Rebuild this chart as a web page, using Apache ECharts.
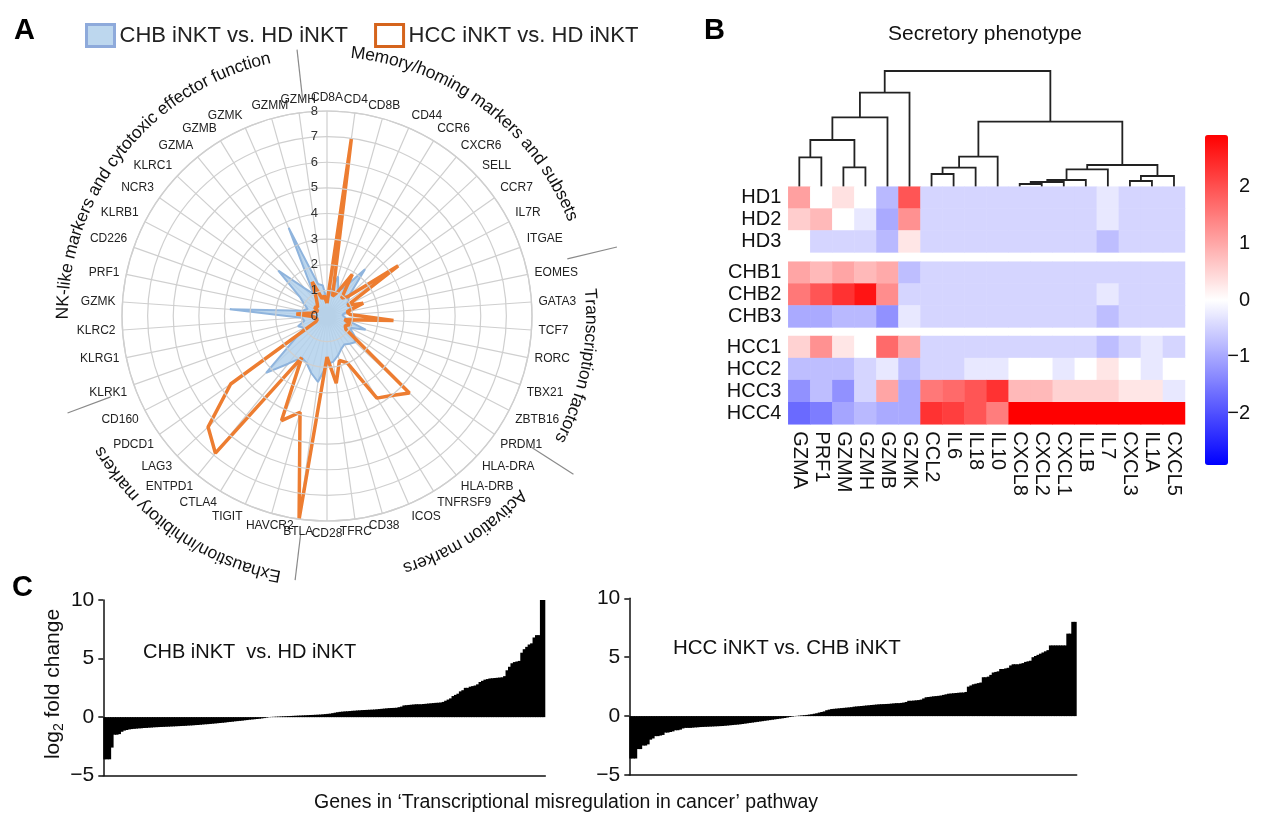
<!DOCTYPE html>
<html><head><meta charset="utf-8">
<script src="https://cdn.jsdelivr.net/npm/echarts@6/dist/echarts.min.js"></script>
<style>html,body{margin:0;padding:0;background:#fff}#c{width:1277px;height:817px}</style>
</head><body><div id="c"></div>
<script>
const FONT = '"Liberation Sans", Arial, Helvetica, sans-serif';

// ---------- Panel A data ----------
const radarGenes = ['CD8A','CD4','CD8B','CD44','CCR6','CXCR6','SELL','CCR7','IL7R','ITGAE',
  'EOMES','GATA3','TCF7','RORC','TBX21','ZBTB16','PRDM1','HLA-DRA','HLA-DRB','TNFRSF9',
  'ICOS','CD38','TFRC','CD28','BTLA','HAVCR2','TIGIT','CTLA4','ENTPD1','LAG3',
  'PDCD1','CD160','KLRK1','KLRG1','KLRC2','GZMK','PRF1','CD226','KLRB1','NCR3',
  'KLRC1','GZMA','GZMB','GZMK','GZMM','GZMH'];
const chbVsHd = [0.6,0.9,1.6,1.1,1.3,2.35,1.2,1.0,0.9,1.0,
  0.8,0.6,0.7,0.8,1.6,1.0,1.3,1.5,1.4,1.3,
  1.4,1.6,1.8,1.9,2.6,2.3,2.0,1.9,2.4,3.25,
  1.5,1.0,1.2,0.9,1.0,3.8,1.0,0.8,1.0,1.3,
  2.6,1.4,1.0,3.75,1.3,1.2];
const hccVsHd = [0.5,7.0,0.8,1.0,1.9,0.9,1.1,3.4,0.9,1.5,
  0.8,0.9,2.6,0.7,1.0,0.8,0.9,4.4,4.0,3.75,
  2.0,1.8,2.65,1.6,8.0,3.9,4.45,1.9,6.9,6.35,
  4.6,0.5,0.4,0.4,0.5,1.2,0.6,0.5,0.4,0.6,
  0.5,0.6,0.8,1.45,0.7,0.8];
const legendNames = ['CHB iNKT vs. HD iNKT', 'HCC iNKT vs. HD iNKT'];
const groupLabels = ['Memory/homing markers and subsets','Transcription factors','Activation markers',
  'Exhaustion/inhibitory markers','NK-like markers and cytotoxic effector function'];
const groupLabelAngle = [4.72, 12.94, 18.85, 27.48, 39.41];   // in gene-index units
const groupLabelRadius = 10.3;                                 // in axis units
const separatorAngle = [45.18, 9.79, 15.68, 23.88, 31.88];
const separatorInner = [8.47, 9.64, 9.48, 8.59, 9.01];
const separatorOuter = [10.46, 11.63, 11.43, 10.38, 10.81];

// ---------- Panel B data ----------
const hmCols = ['GZMA','PRF1','GZMM','GZMH','GZMB','GZMK','CCL2','IL6','IL18','IL10',
  'CXCL8','CXCL2','CXCL1','IL1B','IL7','CXCL3','IL1A','CXCL5'];
const hdRows = ['HD1','HD2','HD3'];
const chbRows = ['CHB1','CHB2','CHB3'];
const hccRows = ['HCC1','HCC2','HCC3','HCC4'];
const hdValues = [
  [1.08,0,0.34,0,-0.8,1.93,-0.48,-0.48,-0.48,-0.48,-0.48,-0.48,-0.48,-0.48,-0.26,-0.48,-0.48,-0.48],
  [0.57,0.8,0,-0.26,-0.97,1.25,-0.48,-0.48,-0.48,-0.48,-0.48,-0.48,-0.48,-0.48,-0.26,-0.48,-0.48,-0.48],
  [0,-0.48,-0.48,-0.48,-0.8,0.28,-0.48,-0.48,-0.48,-0.48,-0.48,-0.48,-0.48,-0.48,-0.74,-0.48,-0.48,-0.48]];
const chbValues = [
  [1.02,0.8,1.02,0.8,0.97,-0.74,-0.48,-0.48,-0.48,-0.48,-0.48,-0.48,-0.48,-0.48,-0.48,-0.48,-0.48,-0.48],
  [1.53,1.93,2.33,2.67,1.3,-0.48,-0.48,-0.48,-0.48,-0.48,-0.48,-0.48,-0.48,-0.48,-0.26,-0.48,-0.48,-0.48],
  [-0.97,-0.97,-0.8,-0.8,-1.25,-0.26,-0.48,-0.48,-0.48,-0.48,-0.48,-0.48,-0.48,-0.48,-0.74,-0.48,-0.48,-0.48]];
const hccValues = [
  [0.51,1.25,0.28,0,1.7,0.97,-0.48,-0.48,-0.48,-0.48,-0.48,-0.48,-0.48,-0.48,-0.74,-0.48,-0.26,-0.48],
  [-0.74,-0.74,-0.74,-0.48,-0.26,-0.74,-0.48,-0.48,-0.26,-0.26,0,0,-0.26,0,0.28,0,-0.26,0],
  [-1.25,-0.74,-1.25,-0.48,1.02,-0.97,1.53,1.7,1.93,2.33,0.8,0.8,0.51,0.51,0.51,0.28,0.28,-0.26],
  [-1.7,-1.48,-1.02,-0.8,-0.97,-0.97,2.33,2.2,1.93,1.48,2.9,2.9,2.9,2.9,2.9,2.9,2.9,2.9]];
// dendrogram merges: [child a, child b, height]; leaves 0..17, new nodes numbered from 18
const dendroMerges = [[0,1,2.94],[2,3,1.94],[18,19,4.67],[20,4,6.94],[21,5,9.4],
  [6,7,1.27],[23,8,1.9],[24,9,3.0],[10,11,0.27],[26,12,0.47],[27,13,0.67],[28,14,1.74],
  [15,16,0.57],[30,17,1.07],[29,31,2.17],[25,32,6.5],[22,33,11.57]];
const colorbarTicks = [-2,-1,0,1,2];

// ---------- Panel C data ----------
const chbVsHdFold = [
 -3.6,-3.6,-3.6,-2.6,-1.5,-1.5,-1.45,-1.25,-1.15,-1.1,
 -1.05,-1.02,-1.0,-0.98,-0.96,-0.95,-0.93,-0.92,-0.9,-0.89,
 -0.87,-0.86,-0.85,-0.84,-0.83,-0.82,-0.81,-0.8,-0.79,-0.78,
 -0.77,-0.76,-0.75,-0.74,-0.72,-0.71,-0.7,-0.68,-0.67,-0.65,
 -0.63,-0.61,-0.6,-0.58,-0.56,-0.54,-0.52,-0.5,-0.48,-0.46,
 -0.43,-0.41,-0.39,-0.36,-0.34,-0.32,-0.3,-0.27,-0.25,-0.22,
 -0.2,-0.18,-0.16,-0.14,-0.11,-0.08,-0.05,-0.02,0.02,0.03,
 0.04,0.05,0.06,0.07,0.08,0.09,0.1,0.11,0.12,0.13,
 0.14,0.15,0.16,0.17,0.18,0.19,0.2,0.21,0.22,0.24,
 0.26,0.28,0.3,0.34,0.38,0.42,0.45,0.47,0.49,0.5,
 0.52,0.54,0.55,0.57,0.58,0.6,0.61,0.62,0.63,0.64,
 0.65,0.67,0.69,0.71,0.73,0.75,0.77,0.78,0.79,0.8,
 0.85,0.9,1.0,1.02,1.04,1.06,1.08,1.1,1.1,1.1,
 1.12,1.14,1.16,1.18,1.2,1.22,1.23,1.25,1.3,1.4,
 1.5,1.6,1.8,1.9,2.0,2.2,2.3,2.5,2.5,2.6,
 2.65,2.7,2.8,3.0,3.1,3.2,3.25,3.3,3.32,3.34,
 3.36,3.38,3.4,3.5,4.0,4.3,4.6,4.7,4.75,4.8,
 5.5,5.8,6.0,6.2,6.3,6.8,7.0,7.0,10.5,10.5];
const hccVsChbFold = [
 -3.6,-3.6,-3.6,-2.8,-2.8,-2.5,-2.5,-2.4,-2.0,-1.9,
 -1.7,-1.7,-1.65,-1.6,-1.4,-1.4,-1.35,-1.3,-1.2,-1.2,
 -1.15,-1.05,-1.0,-1.0,-1.0,-0.98,-0.96,-0.95,-0.93,-0.92,
 -0.91,-0.9,-0.89,-0.88,-0.87,-0.86,-0.85,-0.84,-0.82,-0.8,
 -0.78,-0.76,-0.74,-0.72,-0.7,-0.67,-0.64,-0.61,-0.58,-0.55,
 -0.52,-0.49,-0.46,-0.43,-0.4,-0.37,-0.34,-0.31,-0.28,-0.25,
 -0.22,-0.19,-0.16,-0.12,-0.08,-0.05,-0.02,0.02,0.04,0.06,
 0.08,0.1,0.13,0.16,0.2,0.24,0.3,0.35,0.4,0.5,
 0.55,0.6,0.62,0.64,0.66,0.68,0.7,0.72,0.74,0.76,
 0.8,0.82,0.84,0.86,0.88,0.9,0.92,0.94,0.96,0.98,
 1.0,1.01,1.02,1.03,1.04,1.06,1.08,1.1,1.1,1.12,
 1.15,1.2,1.3,1.3,1.32,1.34,1.36,1.4,1.5,1.6,
 1.62,1.65,1.68,1.7,1.72,1.75,1.8,1.85,1.9,1.92,
 1.94,1.96,1.98,2.0,2.0,2.05,2.5,2.6,2.7,2.75,
 2.8,2.85,3.3,3.3,3.35,3.5,3.7,3.75,3.8,4.0,
 4.0,4.05,4.1,4.3,4.4,4.4,4.4,4.45,4.5,4.6,
 4.65,4.7,5.0,5.1,5.2,5.3,5.4,5.5,5.6,6.0,
 6.0,6.0,6.0,6.0,6.0,6.0,7.0,7.0,8.0,8.0];

// ---------- build ----------
const chart = echarts.init(document.getElementById('c'), null, {renderer: 'canvas'});
const N = radarGenes.length;
const closeLoop = arr => arr.map((v, i) => [v, i]).concat([[arr[0], N]]);
const minus = v => (v < 0 ? '\u2212' + (-v) : '' + v);

// dendrogram geometry from merges
const nodeX = hmCols.map((_, i) => i), nodeH = hmCols.map(() => 0);
const dendroData = dendroMerges.map(m => {
  const [a, b, h] = m;
  const row = [nodeX[a], nodeH[a], nodeX[b], nodeH[b], h];
  nodeX.push((nodeX[a] + nodeX[b]) / 2); nodeH.push(h);
  return row;
});
const rootH = dendroMerges[dendroMerges.length - 1][2];

const hmSeries = (vals, gi) => ({
  type: 'heatmap', xAxisIndex: gi, yAxisIndex: gi,
  data: vals.flatMap((row, r) => row.map((v, c) => [c, r, v])),
  itemStyle: {borderWidth: 0}, emphasis: {disabled: true}
});
const hmGrid = (top, h) => ({left: 788.3, top, width: 396.7, height: h});
const hiddenCat = (gi, data) => ({type: 'category', gridIndex: gi, data, show: false});
const rowAxis = (gi, data) => ({type: 'category', gridIndex: gi, data, inverse: true,
  axisLine: {show: false}, axisTick: {show: false},
  axisLabel: {interval: 0, fontSize: 20, color: '#111', fontFamily: FONT, margin: 7, hideOverlap: false}});
const foldY = gi => ({type: 'value', gridIndex: gi, min: -5, max: 10, interval: 5,
  axisLine: {show: true, lineStyle: {color: '#111', width: 1.5}},
  axisTick: {show: true, length: 5, lineStyle: {color: '#111', width: 1.5}},
  splitLine: {show: false},
  axisLabel: {fontSize: 21, color: '#111', fontFamily: FONT, margin: 9, formatter: minus}});
const foldX = (gi, n) => ({type: 'category', gridIndex: gi, data: n.map((_, i) => i),
  axisLine: {onZero: false, lineStyle: {color: '#111', width: 1.5}},
  axisTick: {show: false}, axisLabel: {show: false}});
const foldBar = (gi, data) => ({type: 'bar', xAxisIndex: gi, yAxisIndex: gi, data,
  barWidth: 3.4, barCategoryGap: '0%',
  itemStyle: {color: '#000'}, emphasis: {disabled: true}});

const option = {
  animation: false,
  backgroundColor: '#fff',
  textStyle: {fontFamily: FONT},
  legend: {
    left: 80, top: 18, itemWidth: 28, itemHeight: 22, itemGap: 26,
    textStyle: {fontSize: 22, color: '#222', fontFamily: FONT},
    data: [
      {name: legendNames[0], icon: 'rect', itemStyle: {color: '#bdd7ee', borderColor: '#8eaadb', borderWidth: 3}},
      {name: legendNames[1], icon: 'rect', itemStyle: {color: '#ffffff', borderColor: '#d5641c', borderWidth: 3}}
    ]
  },
  polar: {center: [327, 316], radius: 205},
  angleAxis: {
    type: 'value', min: 0, max: N, interval: 1, startAngle: 90, clockwise: true,
    axisLine: {show: true, lineStyle: {color: '#cfcfcf', width: 1.2}},
    axisTick: {show: false},
    splitLine: {show: true, lineStyle: {color: '#cfcfcf', width: 1.2}},
    axisLabel: {fontSize: 12, color: '#222', fontFamily: FONT, margin: 7,
      formatter: v => (v < N ? radarGenes[v] : '')}
  },
  radiusAxis: {
    type: 'value', min: 0, max: 8, interval: 1, z: 20,
    axisLine: {show: false}, axisTick: {show: false},
    splitLine: {show: true, lineStyle: {color: '#cfcfcf', width: 1.2}},
    axisLabel: {fontSize: 13, color: '#333', fontFamily: FONT, margin: 9, hideOverlap: false, showMinLabel: true}
  },
  grid: [
    {left: 788.3, top: 71, width: 396.7, height: 115.7},
    hmGrid(186.7, 65.7), hmGrid(261.7, 65.7), hmGrid(336, 88.3),
    {left: 1205, top: 129.3, width: 23, height: 341.4},
    {left: 103.3, top: 600, width: 442, height: 175.7},
    {left: 629.3, top: 598.3, width: 447.4, height: 176.7}
  ],
  xAxis: [
    {type: 'value', gridIndex: 0, min: -0.5, max: hmCols.length - 0.5, show: false},
    hiddenCat(1, hmCols), hiddenCat(2, hmCols),
    {type: 'category', gridIndex: 3, data: hmCols, axisLine: {show: false}, axisTick: {show: false},
      axisLabel: {rotate: -90, interval: 0, fontSize: 20, color: '#111', fontFamily: FONT, margin: 7}},
    {type: 'value', gridIndex: 4, show: false},
    foldX(5, chbVsHdFold), foldX(6, hccVsChbFold)
  ],
  yAxis: [
    {type: 'value', gridIndex: 0, min: 0, max: rootH, show: false},
    rowAxis(1, hdRows), rowAxis(2, chbRows), rowAxis(3, hccRows),
    {type: 'value', gridIndex: 4, min: -3, max: 3, interval: 1, position: 'right',
      axisLine: {show: false}, axisTick: {show: false}, splitLine: {show: false},
      axisLabel: {fontSize: 20, color: '#111', fontFamily: FONT, margin: 22, align: 'right',
        formatter: v => (colorbarTicks.indexOf(v) < 0 ? '' : minus(v))}},
    foldY(5), foldY(6)
  ],
  visualMap: {
    type: 'continuous', min: -2.9, max: 2.9, calculable: false, show: true,
    left: 1205, top: 135, itemWidth: 23, itemHeight: 330, padding: 0,
    text: null, seriesIndex: [3, 4, 5],
    inRange: {color: ['#0000ff', '#ffffff', '#ff0000']}
  },
  series: [
    {name: legendNames[0], type: 'line', coordinateSystem: 'polar', data: closeLoop(chbVsHd),
      symbol: 'none', smooth: false, z: 3,
      lineStyle: {color: '#8fb4dd', width: 2},
      areaStyle: {color: '#b3d1ec', opacity: 0.85}, itemStyle: {color: '#bdd7ee'}},
    {name: legendNames[1], type: 'line', coordinateSystem: 'polar', data: closeLoop(hccVsHd),
      symbol: 'none', smooth: false, z: 4,
      lineStyle: {color: '#ed7d31', width: 3.5}, itemStyle: {color: '#ed7d31'}},
    {type: 'custom', xAxisIndex: 0, yAxisIndex: 0, data: dendroData,
      encode: {x: [0, 2], y: [1, 3, 4]},
      renderItem: (params, api) => {
        const p1 = api.coord([api.value(0), api.value(1)]);
        const p2 = api.coord([api.value(0), api.value(4)]);
        const p3 = api.coord([api.value(2), api.value(4)]);
        const p4 = api.coord([api.value(2), api.value(3)]);
        return {type: 'polyline', shape: {points: [p1, p2, p3, p4]},
          style: {stroke: '#222', lineWidth: 1.8, fill: null}};
      }},
    hmSeries(hdValues, 1), hmSeries(chbValues, 2), hmSeries(hccValues, 3),
    foldBar(5, chbVsHdFold), foldBar(6, hccVsChbFold)
  ],
  graphic: []
};
chart.setOption(option);

// ---------- annotations ----------
const txt = (x, y, text, size, extra) => Object.assign({type: 'text', x, y, silent: true,
  style: Object.assign({text, fontSize: size, fontFamily: FONT, fill: '#111', align: 'left', verticalAlign: 'middle'}, extra || {})});
const g = [
  txt(14, 31, 'A', 29, {fontWeight: 'bold', fill: '#000'}),
  txt(704, 31, 'B', 29, {fontWeight: 'bold', fill: '#000'}),
  txt(12, 588, 'C', 29, {fontWeight: 'bold', fill: '#000'}),
  txt(985, 34, 'Secretory phenotype', 21, {align: 'center'}),
  txt(143, 652, 'CHB iNKT  vs. HD iNKT', 20),
  txt(673, 648, 'HCC iNKT vs. CHB iNKT', 20.5),
  txt(566, 803, 'Genes in \u2018Transcriptional misregulation in cancer\u2019 pathway', 19.5, {align: 'center'}),
  {type: 'text', x: 53, y: 684, rotation: Math.PI / 2, silent: true,
    style: {text: 'log{s|2} fold change', fontSize: 21, fontFamily: FONT, fill: '#111',
      align: 'center', verticalAlign: 'middle',
      rich: {s: {fontSize: 14, fontFamily: FONT, fill: '#111', verticalAlign: 'bottom', padding: [12, 0, 0, 0]}}}}
];

// polar-based decorations
const toPx = (r, a) => chart.convertToPixel({polarIndex: 0}, [r, a]);
const ctr = toPx(0, 0);
separatorAngle.forEach((a, i) => {
  const p1 = toPx(separatorInner[i], a), p2 = toPx(separatorOuter[i], a);
  g.push({type: 'line', silent: true, shape: {x1: p1[0], y1: p1[1], x2: p2[0], y2: p2[1]},
    style: {stroke: '#8a8a8a', lineWidth: 1.2}});
});
const mctx = document.createElement('canvas').getContext('2d');
const arcFont = 17.5;
mctx.font = arcFont + 'px "Liberation Sans"';
groupLabels.forEach((label, k) => {
  const p = toPx(groupLabelRadius, groupLabelAngle[k]);
  const dx = p[0] - ctr[0], dy = p[1] - ctr[1];
  const R = Math.hypot(dx, dy);
  const phi0 = Math.atan2(dx, -dy);
  const chars = Array.from(label);
  const w = chars.map(ch => mctx.measureText(ch).width);
  const total = w.reduce((s, v) => s + v, 0);
  let s = -total / 2;
  chars.forEach((ch, i) => {
    const mid = s + w[i] / 2; s += w[i];
    const phi = phi0 + mid / R;
    g.push({type: 'text', silent: true,
      x: ctr[0] + R * Math.sin(phi), y: ctr[1] - R * Math.cos(phi), rotation: -phi,
      style: {text: ch, fontSize: arcFont, fontFamily: FONT, fill: '#111', align: 'center', verticalAlign: 'middle'}});
  });
});
chart.setOption({graphic: g});
</script></body></html>
